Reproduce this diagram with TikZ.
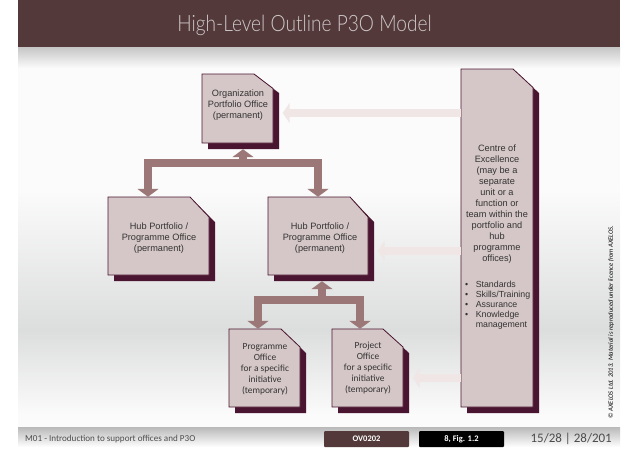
\documentclass[tikz,border=0pt]{standalone}
\usepackage{fontspec}
\setmainfont{Liberation Sans}
\newfontfamily\calfont{Carlito}
\newfontfamily\titlefont{Lato Light}
\usetikzlibrary{arrows.meta,calc,positioning}
\definecolor{headbrown}{HTML}{53393A}
\definecolor{boxdark}{HTML}{4A1530}
\definecolor{boxfill}{HTML}{D5C7C7}
\definecolor{treecol}{HTML}{9B7777}
\definecolor{palecol}{HTML}{F0E6E6}
\definecolor{bggray}{HTML}{DCDDDD}
\definecolor{bgwhite}{HTML}{FBFBFB}
\tikzset{
  treearrow/.style={draw=treecol,line width=8.5pt,line join=miter},
  treetip/.style={-{Triangle[length=8pt,width=21pt]}},
  palearrow/.style={draw=palecol,line width=8pt,shorten >=9.5pt,-{Triangle[length=7pt,width=20pt]}},
  boxtext/.style={align=center,font=\fontsize{9.2}{11}\selectfont,text=black!80,inner sep=0pt},
  caltext/.style={align=center,font=\calfont\fontsize{9.4}{11}\selectfont,text=black!80,inner sep=0pt},
  tagbox/.style={rounded corners=1pt,text=white,minimum height=16pt,inner sep=0pt,font=\calfont\bfseries\fontsize{8.5}{9}\selectfont}
}
\begin{document}
\begin{tikzpicture}[x=1pt,y=-1pt]
  \useasboundingbox (0,0) rectangle (638,451);
  % background
  \fill[bgwhite] (18,47) rectangle (620,200);
  \shade[top color=gray!45,bottom color=bgwhite] (18,47) rectangle (620,68);
  \shade[top color=bgwhite,bottom color=bggray] (18,190) rectangle (620,330);
  \shade[top color=bggray,bottom color=bgwhite] (18,330) rectangle (620,415);
  \fill[bgwhite] (18,415) rectangle (620,428);
  \shade[top color=gray!55,bottom color=white] (18,427) rectangle (620,447);
  \fill[headbrown] (18,0) rectangle (620,47);
  \node[inner sep=0pt,xscale=0.85,text=white!72!headbrown,font=\titlefont\fontsize{22.5}{26}\selectfont] (title) at (304.5,25) {High-Level Outline P3O Model};

  % boxes: name / left,top / right,bottom / cut x / cut y on box / cut y on shadow
  \foreach \nm/\xa/\ya/\xb/\yb/\xc/\yd/\yc in {org/202/74/273/143/254/88.5/93,hubA/108/197/209/275/190/217/222,hubB/268/197/368/275/350/217/222,prog/229/329/300/407/281/347/353,proj/332/329/403/407/383/347/353,centre/461/69/533/407/513/87.5/93}{
    \fill[boxdark] (\xa+6,\yb+6) -- (\xb+6,\yb+6) -- (\xb+6,\yc) -- (\xc,\ya) -- (\xa+6,\ya) -- cycle;
    \draw[boxdark,fill=boxfill,line width=0.8pt] (\xa,\ya) -- (\xc,\ya) -- (\xb,\yd) -- (\xb,\yb) -- (\xa,\yb) -- cycle;
    \node[inner sep=0pt,minimum width={(\xb-\xa)*1pt},minimum height={(\yb-\ya)*1pt}] (\nm) at ({(\xa+\xb)/2},{(\ya+\yb)/2}) {};
  }

  \node[boxtext] (orgtext) at (238,105) {Organization\\Portfolio Office\\(permanent)};
  \node[boxtext] (hubAtext) at (159,238) {Hub Portfolio /\\Programme Office\\(permanent)};
  \node[boxtext] (hubBtext) at (320,238) {Hub Portfolio /\\Programme Office\\(permanent)};
  \node[caltext] (progtext) at (265,369) {Programme\\Office\\for a specific\\initiative\\(temporary)};
  \node[caltext] (projtext) at (368,368) {Project\\Office\\for a specific\\initiative\\(temporary)};
  \node[boxtext] (centretext) at (497,204) {Centre of\\Excellence\\(may be a\\separate\\unit or a\\function or\\team within the\\portfolio and\\hub\\programme\\offices)};
  \node[inner sep=0pt,align=left,anchor=north west,text=black!80,font=\fontsize{8.8}{10}\selectfont] (centrelist) at (465,280.5) {\textbullet\hspace{7.5pt}Standards\\\textbullet\hspace{7.5pt}Skills/Training\\\textbullet\hspace{7.5pt}Assurance\\\textbullet\hspace{7.5pt}Knowledge\\\hphantom{\textbullet}\hspace{7.5pt}management};

  % tree arrows
  \coordinate (barAL) at (148,163);
  \coordinate (barAR) at (318,163);
  \coordinate (barAM) at (243,163);
  \coordinate (barBL) at (258,300);
  \coordinate (barBR) at (360,300);
  \coordinate (barBM) at (322,300);
  \draw[treearrow,{Triangle[length=8pt,width=21pt]}-{Triangle[length=8pt,width=21pt]}] (barAL |- hubA.north) -- (barAL) -- (barAR) -- (barAR |- hubB.north);
  \draw[treearrow,treetip,shorten >=6pt] (barAM) -- (barAM |- org.south);
  \draw[treearrow,{Triangle[length=8pt,width=21pt]}-{Triangle[length=8pt,width=21pt]}] (barBL |- prog.north) -- (barBL) -- (barBR) -- (barBR |- proj.north);
  \draw[treearrow,treetip,shorten >=6pt] (barBM) -- (barBM |- hubB.south);

  % pale arrows from the centre
  \coordinate (paleA) at (461,113);
  \coordinate (paleB) at (461,251);
  \coordinate (paleC) at (461,378);
  \draw[palearrow] (paleA) -- (paleA -| org.east);
  \draw[palearrow] (paleB) -- (paleB -| hubB.east);
  \draw[palearrow] (paleC) -- (paleC -| proj.east);

  \node[rotate=90,inner sep=0pt,text=black,font=\calfont\itshape\fontsize{6.6}{8}\selectfont] (credit) at (611,322) {© AXELOS Ltd. 2013. Material is reproduced under licence from AXELOS.};

  % footer
  \node[anchor=west,inner sep=0pt,text=black!70,font=\calfont\fontsize{9.1}{10}\selectfont] (module) at (25,439) {M01 - Introduction to support offices and P3O};
  \node[tagbox,fill=headbrown,minimum width=85pt] (code) at (366.5,439) {OV0202};
  \node[tagbox,fill=black,minimum width=85pt] (figref) at (461.5,439) {8, Fig. 1.2};
  \node[anchor=east,inner sep=0pt,text=black!70,font=\calfont\fontsize{13}{16}\selectfont] (pages) at (612,439) {15/28 | 28/201};
\end{tikzpicture}
\end{document}
